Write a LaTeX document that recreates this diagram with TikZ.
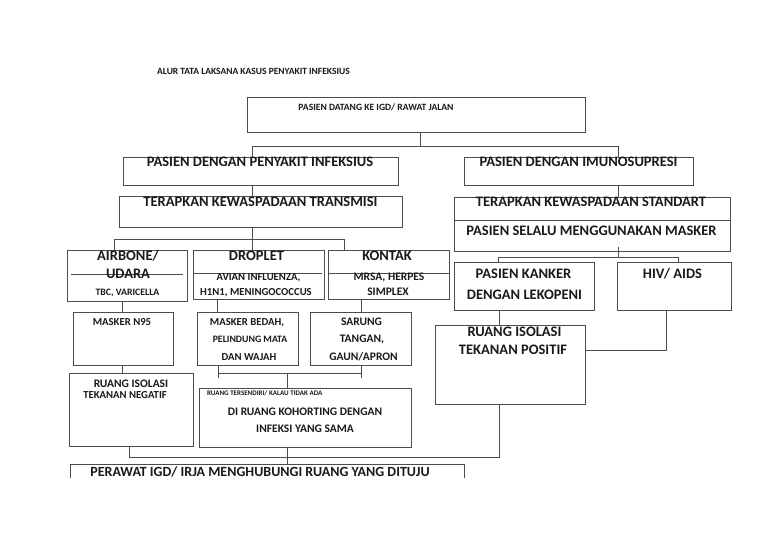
\documentclass[tikz,border=0pt]{standalone}
\usepackage{fontspec}
\setmainfont{Carlito}
\begin{document}
\begin{tikzpicture}[x=1pt,y=-1pt,
  box/.style={draw=black!70, line width=0.8pt, anchor=north west, inner sep=0pt},
  ln/.style={draw=black!70, line width=0.8pt},
  txt/.style={inner sep=0pt, anchor=mid, text=black!90, yshift=-1.3pt},
  fbig/.style={font=\bfseries\fontsize{14.5}{17}\selectfont},
  fper/.style={font=\bfseries\fontsize{14}{17}\selectfont},
  fmid/.style={font=\bfseries\fontsize{11.5}{14}\selectfont},
  fsml/.style={font=\bfseries\fontsize{10.7}{13}\selectfont},
  fxs/.style={font=\bfseries\fontsize{9.8}{12}\selectfont},
  ftitle/.style={font=\bfseries\fontsize{9.5}{11}\selectfont},
  fhead/.style={font=\bfseries\fontsize{9.6}{12}\selectfont},
  ftiny/.style={font=\bfseries\fontsize{7}{8}\selectfont}
]
\useasboundingbox[fill=white] (0,0) rectangle (768,543);

% title
\node[txt,ftitle] (title) at (253.5,71) {ALUR TATA LAKSANA KASUS PENYAKIT INFEKSIUS};

% boxes
\node[box, minimum width=338pt, minimum height=35pt] (b1) at (247,97) {};
\node[box, minimum width=275pt, minimum height=28pt] (b2) at (123,157) {};
\node[box, minimum width=283pt, minimum height=31pt] (b3) at (119,196) {};
\node[box, minimum width=120pt, minimum height=51pt] (air) at (67,250) {};
\node[box, minimum width=131pt, minimum height=49pt] (drop) at (193,250) {};
\node[box, minimum width=121pt, minimum height=49pt] (kon) at (328,250) {};
\node[box, minimum width=100pt, minimum height=53pt] (m95) at (73,312) {};
\node[box, minimum width=101pt, minimum height=53pt] (mb) at (197,312) {};
\node[box, minimum width=101pt, minimum height=53pt] (sar) at (310,312) {};
\node[box, minimum width=124pt, minimum height=73pt] (rin) at (69,373) {};
\node[box, minimum width=212pt, minimum height=59pt] (drb) at (199,388) {};
\node[anchor=north west, inner sep=0pt, minimum width=394pt, minimum height=14pt] (per) at (70,464) {};
\draw[ln] (per.south west) |- (per.north east) -- (per.south east);

\node[box, minimum width=229pt, minimum height=28pt] (imu) at (464,157) {};
\node[box, minimum width=276pt, minimum height=54pt] (std) at (454,197) {};
\node[box, minimum width=140pt, minimum height=48pt] (kan) at (454,262) {};
\node[box, minimum width=114pt, minimum height=48pt] (hiv) at (617,262) {};
\node[box, minimum width=150pt, minimum height=79pt] (rip) at (435,325) {};

% dividers inside boxes
\draw[ln] (71,274) -- (183,274);
\draw[ln] (193,273) -- (322,273);
\draw[ln] (328,273) -- (449,273);
\draw[ln] (454,220) -- (730,220);

% texts
\node[txt,fhead] (t1) at (376,107) {PASIEN DATANG KE IGD/ RAWAT JALAN};
\node[txt,fbig] (t2) at (260,163) {PASIEN DENGAN PENYAKIT INFEKSIUS};
\node[txt,fbig] (t3) at (260.5,203) {TERAPKAN KEWASPADAAN TRANSMISI};
\node[txt,fbig] (ta1) at (128,257) {AIRBONE/};
\node[txt,fbig] (ta2) at (128,275) {UDARA};
\node[txt,fxs] (ta3) at (127.5,292) {TBC, VARICELLA};
\node[txt,fbig] (td1) at (256.5,257) {DROPLET};
\node[txt,fsml] (td2) at (258.5,277) {AVIAN INFLUENZA,};
\node[txt,fsml] (td3) at (256,291.5) {H1N1, MENINGOCOCCUS};
\node[txt,fbig] (tk1) at (387,257) {KONTAK};
\node[txt,fmid] (tk2) at (389,277) {MRSA, HERPES};
\node[txt,fmid] (tk3) at (388,291.5) {SIMPLEX};
\node[txt,fsml] (tm1) at (122,321.5) {MASKER N95};
\node[txt,fsml] (tb1) at (247,322) {MASKER BEDAH,};
\node[txt,fxs] (tb2) at (250,339) {PELINDUNG MATA};
\node[txt,fsml] (tb3) at (249,357) {DAN WAJAH};
\node[txt,fmid] (ts1) at (361.5,322) {SARUNG};
\node[txt,fmid] (ts2) at (362,338.5) {TANGAN,};
\node[txt,fmid] (ts3) at (363.5,357) {GAUN/APRON};
\node[txt,fmid] (tn1) at (131,384) {RUANG ISOLASI};
\node[txt,fsml] (tn2) at (125,395) {TEKANAN NEGATIF};
\node[txt,ftiny,anchor=mid west] (tr0) at (207,392) {RUANG TERSENDIRI/ KALAU TIDAK ADA};
\node[txt,fmid] (tr1) at (305,412) {DI RUANG KOHORTING DENGAN};
\node[txt,fmid] (tr2) at (305,429) {INFEKSI YANG SAMA};
\node[txt,fper] (tp) at (260,473) {PERAWAT IGD/ IRJA MENGHUBUNGI RUANG YANG DITUJU};
\node[txt,fbig] (ti) at (578.5,163) {PASIEN DENGAN IMUNOSUPRESI};
\node[txt,fbig] (tst1) at (591,203) {TERAPKAN KEWASPADAAN STANDART};
\node[txt,fbig] (tst2) at (591.5,232) {PASIEN SELALU MENGGUNAKAN MASKER};
\node[txt,fbig] (tka1) at (523.5,275) {PASIEN KANKER};
\node[txt,fbig] (tka2) at (524.5,296) {DENGAN LEKOPENI};
\node[txt,fbig] (th) at (672.5,274.5) {HIV/ AIDS};
\node[txt,fbig] (tp1) at (514.5,333) {RUANG ISOLASI};
\node[txt,fbig] (tp2) at (513,351) {TEKANAN POSITIF};

% connectors
\draw[ln] ([xshift=173pt]b1.south west) -- ++(0,14);
\draw[ln] ([xshift=129pt]b2.north west) -- ++(0,-11) -| ([xshift=154pt]imu.north west);
\draw[ln] ([xshift=129pt]b2.south west) -- ([xshift=133pt]b3.north west);
\draw[ln] ([xshift=133pt]b3.south west) -- ([xshift=59pt]drop.north west);
\draw[ln] ([xshift=47pt]air.north west) -- ++(0,-11) -| ([xshift=16pt]kon.north west);
\draw[ln] ([xshift=55pt]air.south west) -- ([xshift=49pt]m95.north west);
\draw[ln] ([xshift=24pt]drop.south west) -- ([xshift=20pt]mb.north west);
\draw[ln] ([xshift=33pt]kon.south west) -- ([xshift=51pt]sar.north west);
\draw[ln] ([xshift=49pt]m95.south west) -- ([xshift=53pt]rin.north west);
\draw[ln] ([xshift=21pt]mb.south west) -- ++(0,12);
\draw[ln] ([xshift=51pt]sar.south west) -- ++(0,12);
\draw[ln] ([shift={(21,8)}]mb.south west) -- ([shift={(51,8)}]sar.south west);
\draw[ln] ([xshift=88pt]drb.north west) -- ++(0,-15);
\draw[ln] ([xshift=88pt]drb.south west) -- ([xshift=217pt]per.north west);
\draw[ln] ([xshift=60pt]rin.south west) -- ++(0,11) -| ([xshift=64pt]rip.south west);
\draw[ln] ([xshift=154pt]imu.south west) -- ([xshift=164pt]std.north west);
\draw[ln] ([shift={(164,-5)}]std.south west) -- ++(0,11);
\draw[ln] ([xshift=44pt]kan.north west) -- ++(0,-5) -| ([xshift=61pt]hiv.north west);
\draw[ln] ([xshift=45pt]kan.south west) -- ([xshift=64pt]rip.north west);
\draw[ln] ([xshift=49pt]hiv.south west) |- ([shift={(0,25)}]rip.north east);
\end{tikzpicture}
\end{document}
